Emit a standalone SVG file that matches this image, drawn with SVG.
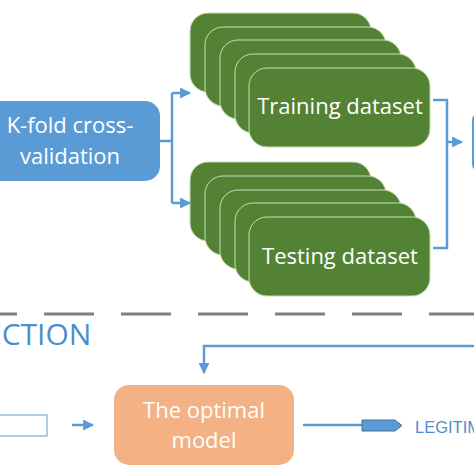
<svg xmlns="http://www.w3.org/2000/svg" width="474" height="474" viewBox="0 0 474 474">
<style>
.g{fill:#548235;stroke:#c5e0b4;stroke-width:1}
.wt{fill:#fff;font-family:"Open Sans",sans-serif;font-size:22px;text-anchor:middle}
.ln{fill:none;stroke:#5b9bd5;stroke-width:2.5}
</style>
<defs>
<marker id="ah" viewBox="0 0 10 10" refX="9" refY="5" markerWidth="4.4" markerHeight="4.4" orient="auto" markerUnits="strokeWidth">
<path d="M0,0 L10,5 L0,10 z" fill="#5b9bd5"/>
</marker>
</defs>
<rect width="474" height="474" fill="#fff"/>
<g id="kfold">
<rect x="-20" y="101" width="180" height="80" rx="15" fill="#5b9bd5"/>
<text class="wt" x="70" y="133">K-fold cross-</text>
<text class="wt" x="70" y="164">validation</text>
</g>
<g id="training">
<rect class="g" x="190" y="13" width="181" height="79" rx="18"/>
<rect class="g" x="205" y="27" width="181" height="79" rx="18"/>
<rect class="g" x="220" y="40" width="181" height="79" rx="18"/>
<rect class="g" x="235" y="54" width="181" height="79" rx="18"/>
<rect class="g" x="249" y="68" width="181" height="79" rx="18"/>
<text class="wt" x="340" y="114">Training dataset</text>
</g>
<g id="testing">
<rect class="g" x="190" y="162" width="181" height="79" rx="18"/>
<rect class="g" x="205" y="176" width="181" height="79" rx="18"/>
<rect class="g" x="220" y="190" width="181" height="79" rx="18"/>
<rect class="g" x="235" y="203" width="181" height="79" rx="18"/>
<rect class="g" x="249" y="217" width="181" height="79" rx="18"/>
<text class="wt" x="340" y="264">Testing dataset</text>
</g>
<g id="rightbox">
<rect x="472" y="112" width="30" height="60" rx="8" fill="#5b9bd5"/>
</g>
<g id="optimal">
<rect x="114" y="385" width="180" height="80" rx="15" fill="#f4b183"/>
<text class="wt" x="204" y="418">The optimal</text>
<text class="wt" x="204" y="448">model</text>
</g>
<g id="leftbox">
<rect x="-10" y="415" width="57" height="21" fill="#fff" stroke="#5b9bd5" stroke-width="1"/>
</g>
<g id="labels">
<text x="-15" y="345" fill="#4a8fcb" font-family="Open Sans,sans-serif" font-size="30">ECTION</text>
<text x="415" y="433" fill="#4a8fcb" font-family="Liberation Sans,sans-serif" font-size="17" textLength="66" lengthAdjust="spacingAndGlyphs">LEGITIM</text>
</g>
<g id="divider">
<line x1="0" y1="314" x2="474" y2="314" stroke="#808080" stroke-width="3" stroke-dasharray="50 27" stroke-dashoffset="33"/>
</g>
<g id="connectors">
<path class="ln" d="M160,141 H172 M172,93 V203"/>
<path class="ln" d="M172,93 H190" marker-end="url(#ah)"/>
<path class="ln" d="M172,203 H190" marker-end="url(#ah)"/>
<path class="ln" d="M433,100 H447 V248 H433"/>
<path class="ln" d="M447,142 H462" marker-end="url(#ah)"/>
<path class="ln" d="M474,346 H204 V373" marker-end="url(#ah)"/>
<path class="ln" d="M72,425 H93" marker-end="url(#ah)"/>
<path class="ln" d="M303,425 H362"/>
<path d="M362,420 H395 L402,425.5 L395,431 H362 Z" fill="#5b9bd5" stroke="#41719c" stroke-width="1"/>
</g>
</svg>
